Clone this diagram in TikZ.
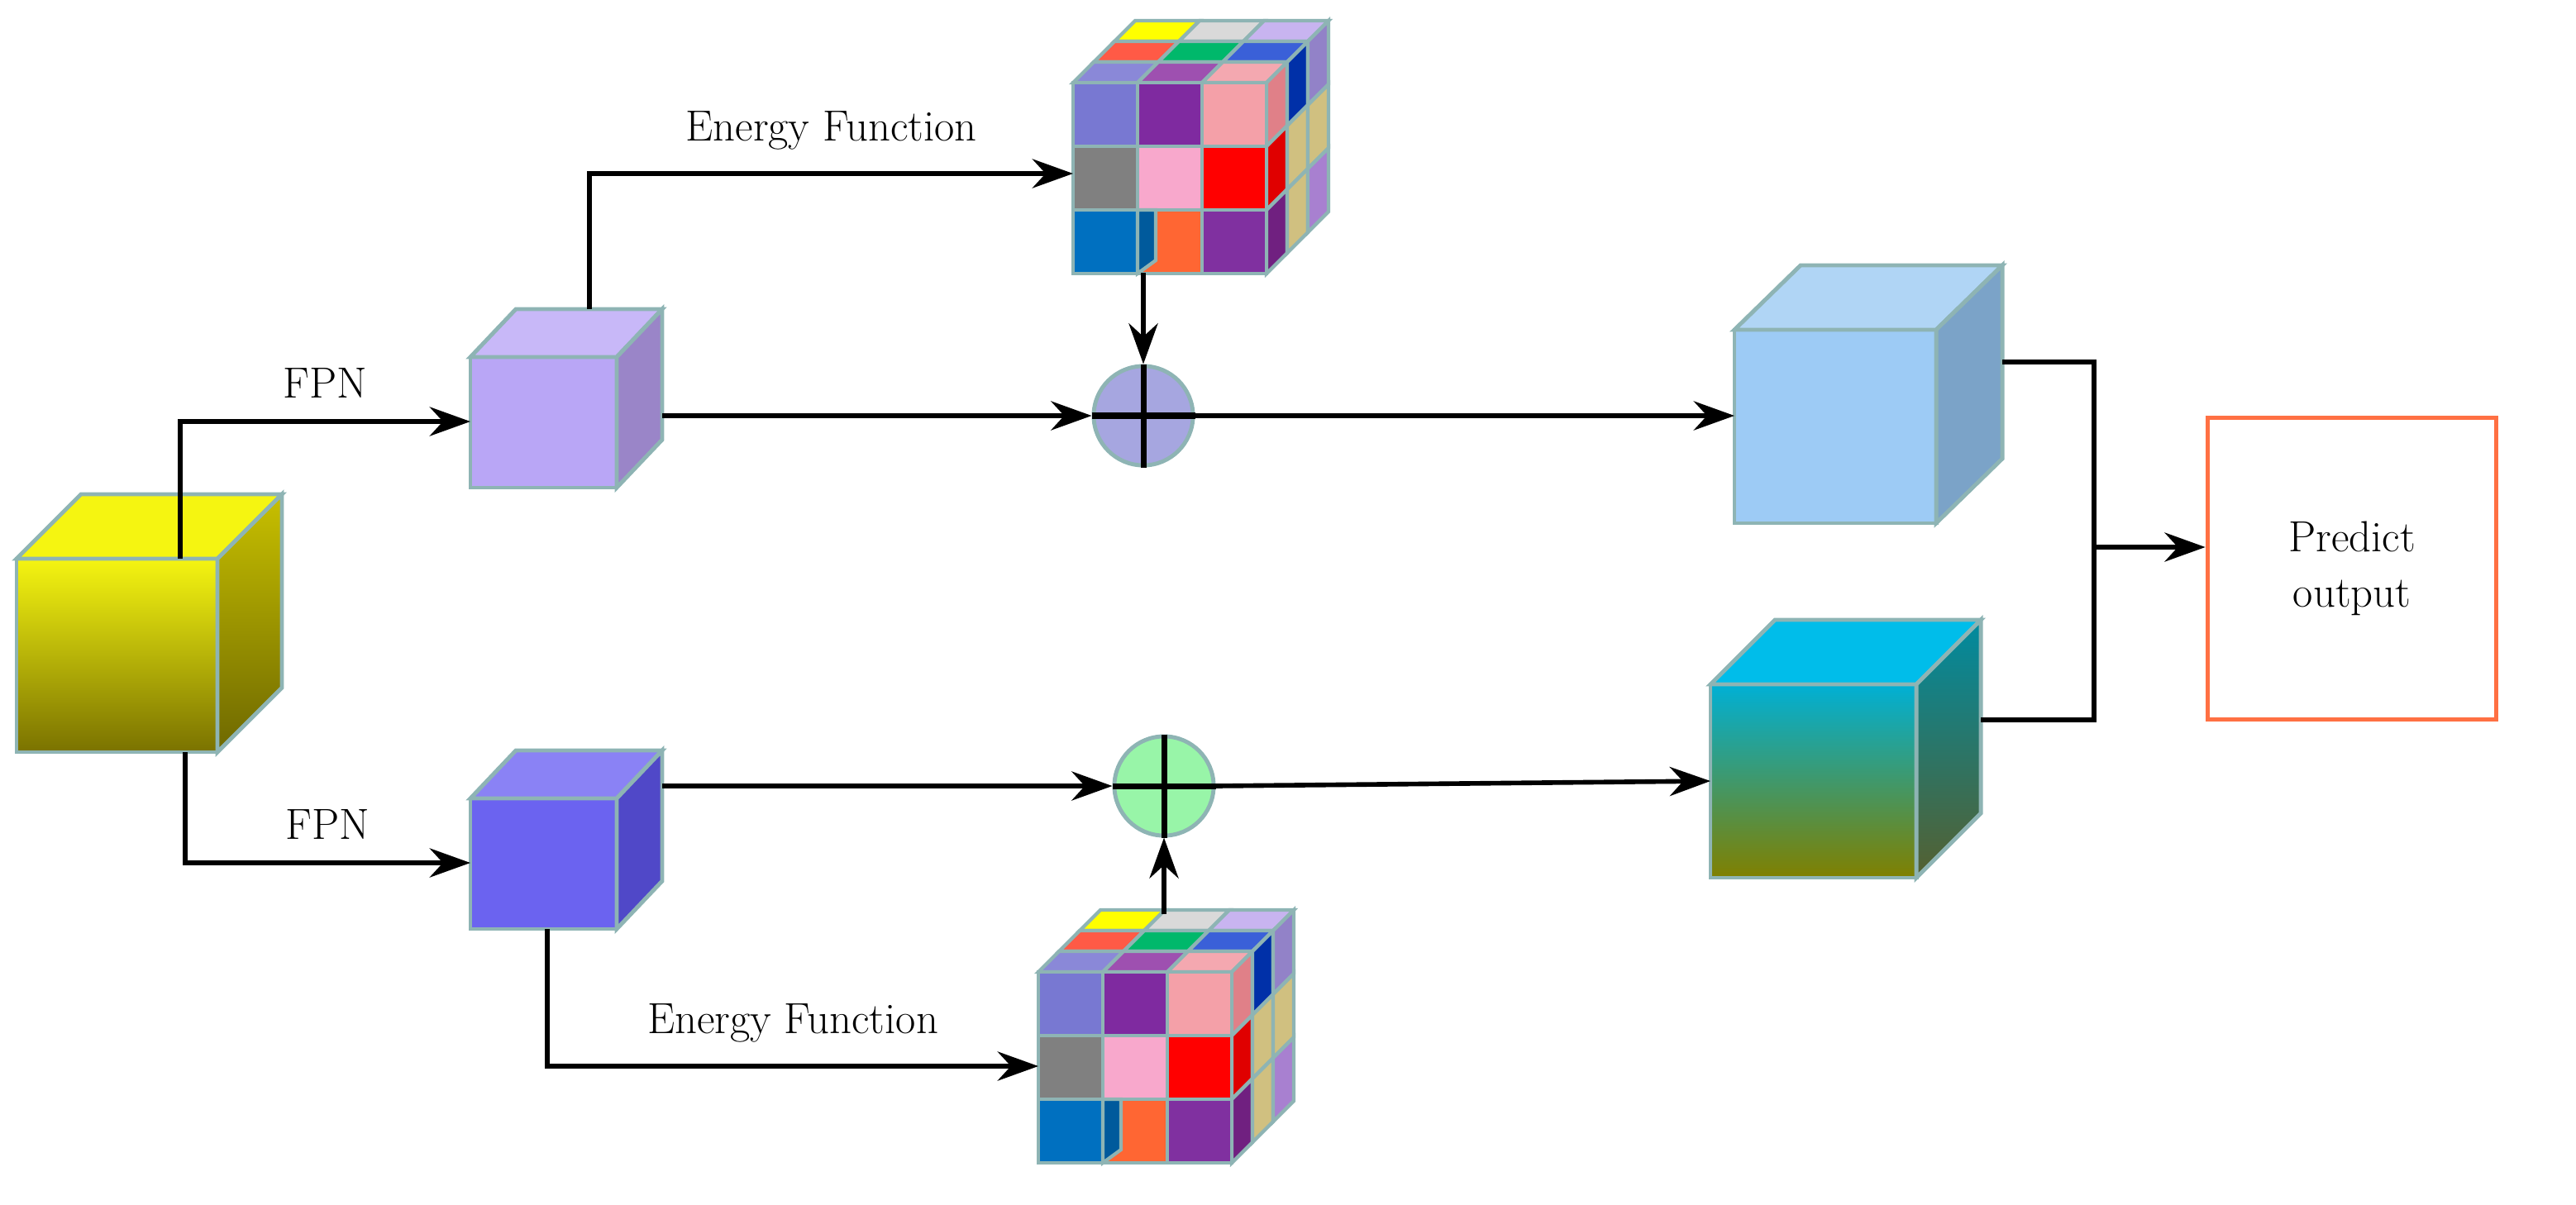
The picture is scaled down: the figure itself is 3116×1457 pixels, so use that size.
\documentclass[tikz,border=0pt]{standalone}
\usetikzlibrary{arrows.meta}
\definecolor{edge}{HTML}{8EB4B4}
\definecolor{ytop}{HTML}{F5F511}\definecolor{ybot}{HTML}{7A7200}
\definecolor{ysidet}{HTML}{C8C000}\definecolor{ysideb}{HTML}{6E6800}
\definecolor{dkb}{HTML}{005A9C}
\definecolor{gft}{HTML}{00B0D5}\definecolor{gfm}{HTML}{4AA0A0}\definecolor{gfb}{HTML}{808000}
\definecolor{gst}{HTML}{008BA0}\definecolor{gsb}{HTML}{556030}
\definecolor{orangeb}{HTML}{FF7043}
\newcommand\rubikcube[1]{%
\begin{scope}[shift={(#1)},draw=edge,line width=1.2pt]
\foreach \i/\k/\c in {0/2/FFFF00,1/2/D9D9D9,2/2/C8B4F0,0/1/FF5A46,1/1/00B86B,2/1/3A60D8,0/0/8A88D8,1/0/9E50B0,2/0/F4A8B0}{
 \definecolor{cc}{HTML}{\c}
 \filldraw[fill=cc] (\i*78+\k*25,-\k*25) -- ++(78,0) -- ++(25,-25) -- ++(-78,0) -- cycle;}
\foreach \k/\j/\c in {0/0/E08088,1/0/0030A8,2/0/9282C8,0/1/E00000,1/1/D0C080,2/1/D0C080,0/2/702080,1/2/D0C080,2/2/A880D0}{
 \definecolor{cc}{HTML}{\c}
 \filldraw[fill=cc] (234+\k*25,\j*77-\k*25) -- ++(25,-25) -- ++(0,77) -- ++(-25,25) -- cycle;}
\foreach \i/\j/\c in {0/0/7878D2,1/0/7F2AA0,2/0/F4A0A8,0/1/808080,1/1/F8A8CC,2/1/FF0000,0/2/0070C0,1/2/FF6633,2/2/8030A0}{
 \definecolor{cc}{HTML}{\c}
 \filldraw[fill=cc] (\i*78,\j*77) rectangle ++(78,77);}
\filldraw[fill=dkb] (78,154) -- (100,154) -- (100,215) -- (78,231) -- cycle;
\end{scope}}
\begin{document}
\begin{tikzpicture}[x=0.01cm,y=-0.01cm,
 every node/.style={font=\fontsize{15}{19}\selectfont},
 arr/.style={line width=1.6pt,-{Stealth[length=14pt,width=10pt]}},
 ln/.style={line width=1.6pt},
 face/.style={draw=edge,line width=1.4pt}]
\useasboundingbox (0,0) rectangle (3116,1457);
% yellow cube
\shade[top color=ytop,bottom color=ybot] (20,676) rectangle (263,910);
\draw[face] (20,676) rectangle (263,910);
\filldraw[face,fill=ytop] (20,676) -- (98,598) -- (341,598) -- (263,676) -- cycle;
\shade[top color=ysidet,bottom color=ysideb] (263,676) -- (341,598) -- (341,832) -- (263,910) -- cycle;
\draw[face] (263,676) -- (341,598) -- (341,832) -- (263,910) -- cycle;
\coordinate (yt) at (218,676); \coordinate (yb) at (224,910);
% purple cube
\definecolor{pf}{HTML}{B9A6F6}\definecolor{ps}{HTML}{9A85C8}\definecolor{pt}{HTML}{C8B8F8}
\filldraw[face,fill=pf] (569,432) rectangle (746,590);
\filldraw[face,fill=pt] (569,432) -- (624,374) -- (801,374) -- (746,432) -- cycle;
\filldraw[face,fill=ps] (746,432) -- (801,374) -- (801,532) -- (746,590) -- cycle;
\coordinate (pl) at (569,510); \coordinate (pr) at (801,503); \coordinate (ptop) at (713,374);
% blue cube
\definecolor{bf}{HTML}{6B63F0}\definecolor{bs}{HTML}{5048C8}\definecolor{bt}{HTML}{8A82F5}
\filldraw[face,fill=bf] (569,966) rectangle (746,1124);
\filldraw[face,fill=bt] (569,966) -- (624,908) -- (801,908) -- (746,966) -- cycle;
\filldraw[face,fill=bs] (746,966) -- (801,908) -- (801,1066) -- (746,1124) -- cycle;
\coordinate (bl) at (569,1044); \coordinate (br) at (801,951); \coordinate (bbot) at (662,1124);
% light blue cube
\definecolor{lf}{HTML}{9DCBF5}\definecolor{ls}{HTML}{7BA3C8}\definecolor{lt}{HTML}{B0D5F5}
\filldraw[face,fill=lf] (2098,399) rectangle (2342,633);
\filldraw[face,fill=lt] (2098,399) -- (2178,321) -- (2422,321) -- (2342,399) -- cycle;
\filldraw[face,fill=ls] (2342,399) -- (2422,321) -- (2422,555) -- (2342,633) -- cycle;
\coordinate (ll) at (2098,503); \coordinate (lr) at (2422,438);
% gradient cube
\definecolor{gt}{HTML}{00BDEA}
\shade[top color=gft,middle color=gfm,bottom color=gfb] (2069,828) rectangle (2318,1062);
\draw[face] (2069,828) rectangle (2318,1062);
\filldraw[face,fill=gt] (2069,828) -- (2147,750) -- (2396,750) -- (2318,828) -- cycle;
\shade[top color=gst,bottom color=gsb] (2318,828) -- (2396,750) -- (2396,984) -- (2318,1062) -- cycle;
\draw[face] (2318,828) -- (2396,750) -- (2396,984) -- (2318,1062) -- cycle;
\coordinate (gl) at (2069,945); \coordinate (gr) at (2396,871);
% rubik cubes
\rubikcube{1298,100}
\rubikcube{1256,1176}
\coordinate (r1l) at (1298,210); \coordinate (r1b) at (1383,330);
\coordinate (r2l) at (1256,1290); \coordinate (r2t) at (1408,1106);
% circles
\definecolor{c1}{HTML}{A6A6E0}\definecolor{c2}{HTML}{98F5A8}
\node[circle,draw=edge,line width=1.4pt,fill=c1,minimum size=1.2cm,inner sep=0pt] (s1) at (1383,503) {};
\node[circle,draw=edge,line width=1.4pt,fill=c2,minimum size=1.2cm,inner sep=0pt] (s2) at (1408,951) {};
\draw[line width=2pt] (s1.north)--(s1.south) (s1.west)--(s1.east);
\draw[line width=2pt] (s2.north)--(s2.south) (s2.west)--(s2.east);
% predict box
\node[draw=orangeb,line width=1.6pt,minimum width=3.49cm,minimum height=3.65cm,align=center] (pred) at (2845,688) {Predict\\output};
% connectors
\draw[arr] (yt) |- node[pos=0.75,above=4pt]{FPN} (pl);
\draw[arr] (yb) |- node[pos=0.75,above=4pt]{FPN} (bl);
\draw[arr] (ptop) |- node[pos=0.75,above=4pt]{Energy Function} (r1l);
\draw[arr] (bbot) |- node[pos=0.75,above=4pt]{Energy Function} (r2l);
\draw[arr] (pr) -- (s1.west);
\draw[arr] (r1b) -- (s1.north);
\draw[arr] (s1.east) -- (ll);
\draw[arr] (br) -- (s2.west);
\draw[arr] (r2t) -- (s2.south);
\draw[arr] (s2.east) -- (gl);
\coordinate (j1) at (2533,438); \coordinate (j2) at (2533,871); \coordinate (jm) at (2533,662);
\draw[ln] (lr) -- (j1) -- (j2) -- (gr);
\draw[arr] (jm) -- (jm -| pred.west);
\end{tikzpicture}
\end{document}
